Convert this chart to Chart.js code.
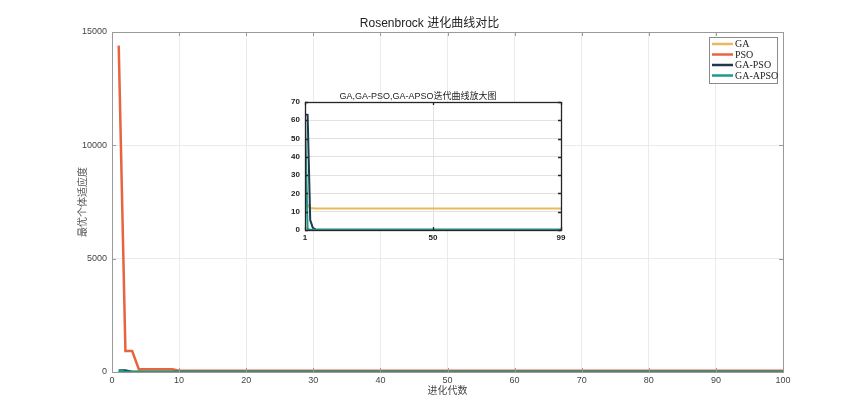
<!DOCTYPE html>
<html>
<head>
<meta charset="utf-8">
<title>Rosenbrock 进化曲线对比</title>
<script src="https://cdn.jsdelivr.net/npm/chart.js@4"></script>
<style>
  body { margin: 0; background: #fff; }
  #wrap { position: relative; width: 865px; height: 418px; }
  #main { position: absolute; left: 0; top: 0; }
  #inset { position: absolute; left: 270px; top: 85px; }
</style>
</head>
<body>
<div id="wrap">
  <canvas id="main" width="865" height="418"></canvas>
  <canvas id="inset" width="300" height="165"></canvas>
</div>
<script>
// generations (x axis)
const generations = [
  1, 2, 3, 4, 5, 6, 7, 8, 9, 10,
  11, 12, 13, 14, 15, 16, 17, 18, 19, 20,
  21, 22, 23, 24, 25, 26, 27, 28, 29, 30,
  31, 32, 33, 34, 35, 36, 37, 38, 39, 40,
  41, 42, 43, 44, 45, 46, 47, 48, 49, 50,
  51, 52, 53, 54, 55, 56, 57, 58, 59, 60,
  61, 62, 63, 64, 65, 66, 67, 68, 69, 70,
  71, 72, 73, 74, 75, 76, 77, 78, 79, 80,
  81, 82, 83, 84, 85, 86, 87, 88, 89, 90,
  91, 92, 93, 94, 95, 96, 97, 98, 99, 100
];

// best fitness per generation
const gaValues = [
  14.0, 13.8, 11.9, 11.9, 11.8, 11.8, 11.8, 11.8, 11.8, 11.8,
  11.8, 11.8, 11.8, 11.8, 11.8, 11.8, 11.8, 11.8, 11.8, 11.8,
  11.8, 11.8, 11.8, 11.8, 11.8, 11.8, 11.8, 11.8, 11.8, 11.8,
  11.8, 11.8, 11.8, 11.8, 11.8, 11.8, 11.8, 11.8, 11.8, 11.8,
  11.8, 11.8, 11.8, 11.8, 11.8, 11.8, 11.8, 11.8, 11.8, 11.8,
  11.8, 11.8, 11.8, 11.8, 11.8, 11.8, 11.8, 11.8, 11.8, 11.8,
  11.8, 11.8, 11.8, 11.8, 11.8, 11.8, 11.8, 11.8, 11.8, 11.8,
  11.8, 11.8, 11.8, 11.8, 11.8, 11.8, 11.8, 11.8, 11.8, 11.8,
  11.8, 11.8, 11.8, 11.8, 11.8, 11.8, 11.8, 11.8, 11.8, 11.8,
  11.8, 11.8, 11.8, 11.8, 11.8, 11.8, 11.8, 11.8, 11.8, 11.8
];
const psoValues = [
  14400, 930, 930, 120, 120, 120, 120, 120, 120, 60,
  60, 60, 60, 60, 60, 60, 60, 60, 60, 60,
  60, 60, 60, 60, 60, 60, 60, 60, 60, 60,
  60, 60, 60, 60, 60, 60, 60, 60, 60, 60,
  60, 60, 60, 60, 60, 60, 60, 60, 60, 60,
  60, 60, 60, 60, 60, 60, 60, 60, 60, 60,
  60, 60, 60, 60, 60, 60, 60, 60, 60, 60,
  60, 60, 60, 60, 60, 60, 60, 60, 60, 60,
  60, 60, 60, 60, 60, 60, 60, 60, 60, 60,
  60, 60, 60, 60, 60, 60, 60, 60, 60, 60
];
const gaPsoValues = [
  63.2, 63.0, 5.4, 1.2, 0.3, 0.2, 0.1, 0.1, 0.1, 0.1,
  0.1, 0.1, 0.1, 0.1, 0.1, 0.1, 0.1, 0.1, 0.1, 0.1,
  0.1, 0.1, 0.1, 0.1, 0.1, 0.1, 0.1, 0.1, 0.1, 0.1,
  0.1, 0.1, 0.1, 0.1, 0.1, 0.1, 0.1, 0.1, 0.1, 0.1,
  0.1, 0.1, 0.1, 0.1, 0.1, 0.1, 0.1, 0.1, 0.1, 0.1,
  0.1, 0.1, 0.1, 0.1, 0.1, 0.1, 0.1, 0.1, 0.1, 0.1,
  0.1, 0.1, 0.1, 0.1, 0.1, 0.1, 0.1, 0.1, 0.1, 0.1,
  0.1, 0.1, 0.1, 0.1, 0.1, 0.1, 0.1, 0.1, 0.1, 0.1,
  0.1, 0.1, 0.1, 0.1, 0.1, 0.1, 0.1, 0.1, 0.1, 0.1,
  0.1, 0.1, 0.1, 0.1, 0.1, 0.1, 0.1, 0.1, 0.1, 0.1
];
const gaApsoValues = [
  63.0, 0.5, 0.2, 0.1, 0.1, 0.1, 0.1, 0.1, 0.1, 0.1,
  0.1, 0.1, 0.1, 0.1, 0.1, 0.1, 0.1, 0.1, 0.1, 0.1,
  0.1, 0.1, 0.1, 0.1, 0.1, 0.1, 0.1, 0.1, 0.1, 0.1,
  0.1, 0.1, 0.1, 0.1, 0.1, 0.1, 0.1, 0.1, 0.1, 0.1,
  0.1, 0.1, 0.1, 0.1, 0.1, 0.1, 0.1, 0.1, 0.1, 0.1,
  0.1, 0.1, 0.1, 0.1, 0.1, 0.1, 0.1, 0.1, 0.1, 0.1,
  0.1, 0.1, 0.1, 0.1, 0.1, 0.1, 0.1, 0.1, 0.1, 0.1,
  0.1, 0.1, 0.1, 0.1, 0.1, 0.1, 0.1, 0.1, 0.1, 0.1,
  0.1, 0.1, 0.1, 0.1, 0.1, 0.1, 0.1, 0.1, 0.1, 0.1,
  0.1, 0.1, 0.1, 0.1, 0.1, 0.1, 0.1, 0.1, 0.1, 0.1
];

const seriesNames = ['GA', 'PSO', 'GA-PSO', 'GA-APSO'];
const seriesColors = ['#EDB85A', '#E8633F', '#1C3A4C', '#1E9B88'];

// tick labels
const mainXTicks = [0, 10, 20, 30, 40, 50, 60, 70, 80, 90, 100];
const mainYTicks = [0, 5000, 10000, 15000];
const insetXTicks = [1, 50, 99];
const insetYTicks = [0, 10, 20, 30, 40, 50, 60, 70];

function toPoints(values) {
  return values.map((v, i) => ({ x: generations[i], y: v }));
}

function setTicks(list) {
  return scale => { scale.ticks = list.map(v => ({ value: v })); };
}

// plain numbers, no thousands separator
const plainLabel = v => String(v);

// white background + box + inward ticks (MATLAB look)
const boxPlugin = {
  id: 'box',
  beforeDraw(chart, args, opts) {
    const a = chart.chartArea, ctx = chart.ctx;
    ctx.save();
    if (opts.fill) {
      ctx.fillStyle = opts.fill;
      ctx.fillRect(a.left, a.top, a.right - a.left, a.bottom - a.top);
    }
    ctx.restore();
  },
  afterDatasetsDraw(chart, args, opts) {
    const a = chart.chartArea, ctx = chart.ctx;
    const xs = chart.scales.x, ys = chart.scales.y;
    const len = opts.tick || 4;
    ctx.save();
    ctx.strokeStyle = opts.color;
    ctx.lineWidth = opts.width || 1;
    ctx.beginPath();
    xs.ticks.forEach(t => {
      const px = Math.round(xs.getPixelForValue(t.value)) + 0.5;
      ctx.moveTo(px, a.bottom); ctx.lineTo(px, a.bottom - len);
      ctx.moveTo(px, a.top); ctx.lineTo(px, a.top + len);
    });
    ys.ticks.forEach(t => {
      const py = Math.round(ys.getPixelForValue(t.value)) + 0.5;
      ctx.moveTo(a.left, py); ctx.lineTo(a.left + len, py);
      ctx.moveTo(a.right, py); ctx.lineTo(a.right - len, py);
    });
    ctx.stroke();
    ctx.strokeRect(Math.round(a.left) + 0.5, Math.round(a.top) + 0.5,
      Math.round(a.right - a.left), Math.round(a.bottom - a.top));
    ctx.restore();
  }
};

// legend box in the upper right corner of the main plot
const legendBoxPlugin = {
  id: 'legendBox',
  afterDraw(chart) {
    const a = chart.chartArea, ctx = chart.ctx;
    const w = 68, h = 46;
    const x0 = a.right - 6 - w, y0 = a.top + 5;
    ctx.save();
    ctx.fillStyle = '#fff';
    ctx.fillRect(x0, y0, w, h);
    ctx.strokeStyle = '#8a8a8a';
    ctx.lineWidth = 1;
    ctx.strokeRect(x0 + 0.5, y0 + 0.5, w, h);
    ctx.font = '10px "Liberation Serif", "Noto Sans CJK SC", serif';
    ctx.textBaseline = 'middle';
    seriesNames.forEach((name, i) => {
      const y = y0 + 7 + i * 10.5;
      ctx.strokeStyle = seriesColors[i];
      ctx.lineWidth = 2.5;
      ctx.beginPath();
      ctx.moveTo(x0 + 3, y); ctx.lineTo(x0 + 24, y);
      ctx.stroke();
      ctx.fillStyle = '#222';
      ctx.fillText(name, x0 + 26, y + 0.5);
    });
    ctx.restore();
  }
};

const mainValues = [gaValues, psoValues, gaPsoValues, gaApsoValues];

new Chart(document.getElementById('main'), {
  type: 'line',
  data: {
    datasets: mainValues.map((vals, i) => ({
      label: seriesNames[i],
      data: toPoints(vals),
      borderColor: seriesColors[i],
      borderWidth: 2.5,
      pointRadius: 0,
      tension: 0,
      order: 4 - i
    }))
  },
  options: {
    responsive: false,
    animation: false,
    layout: { padding: { left: 76, right: 82, top: 16, bottom: 22 } },
    plugins: {
      legend: { display: false },
      tooltip: { enabled: false },
      title: {
        display: true,
        text: 'Rosenbrock 进化曲线对比',
        color: '#222',
        font: { size: 12, family: '"Liberation Sans", "Noto Sans CJK SC", sans-serif', weight: 'normal', lineHeight: 1.2 },
        padding: { top: 0, bottom: 1.6 }
      },
      box: { color: '#9a9a9a', width: 1, tick: 4 }
    },
    scales: {
      x: {
        type: 'linear', min: 0, max: 100,
        afterBuildTicks: setTicks(mainXTicks),
        afterFit: s => { s.height = 24; },
        grid: { color: '#ebebeb', drawTicks: false },
        border: { display: false },
        ticks: { color: '#444', padding: 3, callback: plainLabel, font: { size: 9, family: '"Liberation Sans", sans-serif' } },
        title: {
          display: true, text: '进化代数', color: '#444',
          font: { size: 10, family: '"Noto Sans CJK SC", sans-serif', lineHeight: 1.2 },
          padding: 0
        }
      },
      y: {
        type: 'linear', min: 0, max: 15000,
        afterBuildTicks: setTicks(mainYTicks),
        afterFit: s => { s.width = 36; },
        grid: { color: '#ebebeb', drawTicks: false },
        border: { display: false },
        ticks: { color: '#444', padding: 5, callback: plainLabel, font: { size: 9, family: '"Liberation Sans", sans-serif' } },
        title: {
          display: true, text: '最优个体适应度', color: '#555',
          font: { size: 10, family: '"Noto Sans CJK SC", sans-serif', lineHeight: 1.2 },
          padding: 0
        }
      }
    }
  },
  plugins: [boxPlugin, legendBoxPlugin]
});

// zoomed view without PSO
const insetIdx = [0, 2, 3];

new Chart(document.getElementById('inset'), {
  type: 'line',
  data: {
    datasets: insetIdx.map((k, j) => ({
      label: seriesNames[k],
      data: toPoints(mainValues[k]),
      borderColor: seriesColors[k],
      borderWidth: 2,
      pointRadius: 0,
      tension: 0,
      order: 3 - j
    }))
  },
  options: {
    responsive: false,
    animation: false,
    layout: { padding: { left: 5, right: 9, top: 6, bottom: 5 } },
    plugins: {
      legend: { display: false },
      tooltip: { enabled: false },
      title: {
        display: true,
        text: 'GA,GA-PSO,GA-APSO迭代曲线放大图',
        color: '#222',
        font: { size: 9, family: '"Liberation Sans", "Noto Sans CJK SC", sans-serif', weight: 'normal', lineHeight: 1.2 },
        padding: { top: 0, bottom: 0.2 }
      },
      box: { color: '#262626', width: 1.3, tick: 3, fill: '#fff' }
    },
    scales: {
      x: {
        type: 'linear', min: 1, max: 99,
        afterBuildTicks: setTicks(insetXTicks),
        afterFit: s => { s.height = 15; },
        grid: { color: '#e2e2e2', drawTicks: false },
        border: { display: false },
        ticks: { color: '#222', padding: 3, callback: plainLabel, font: { size: 8, weight: 'bold', family: '"Liberation Sans", sans-serif' } }
      },
      y: {
        type: 'linear', min: 0, max: 70,
        afterBuildTicks: setTicks(insetYTicks),
        afterFit: s => { s.width = 30; },
        grid: { color: '#e2e2e2', drawTicks: false },
        border: { display: false },
        ticks: { color: '#222', padding: 5, callback: plainLabel, font: { size: 8, weight: 'bold', family: '"Liberation Sans", sans-serif' } }
      }
    }
  },
  plugins: [boxPlugin]
});
</script>
</body>
</html>
